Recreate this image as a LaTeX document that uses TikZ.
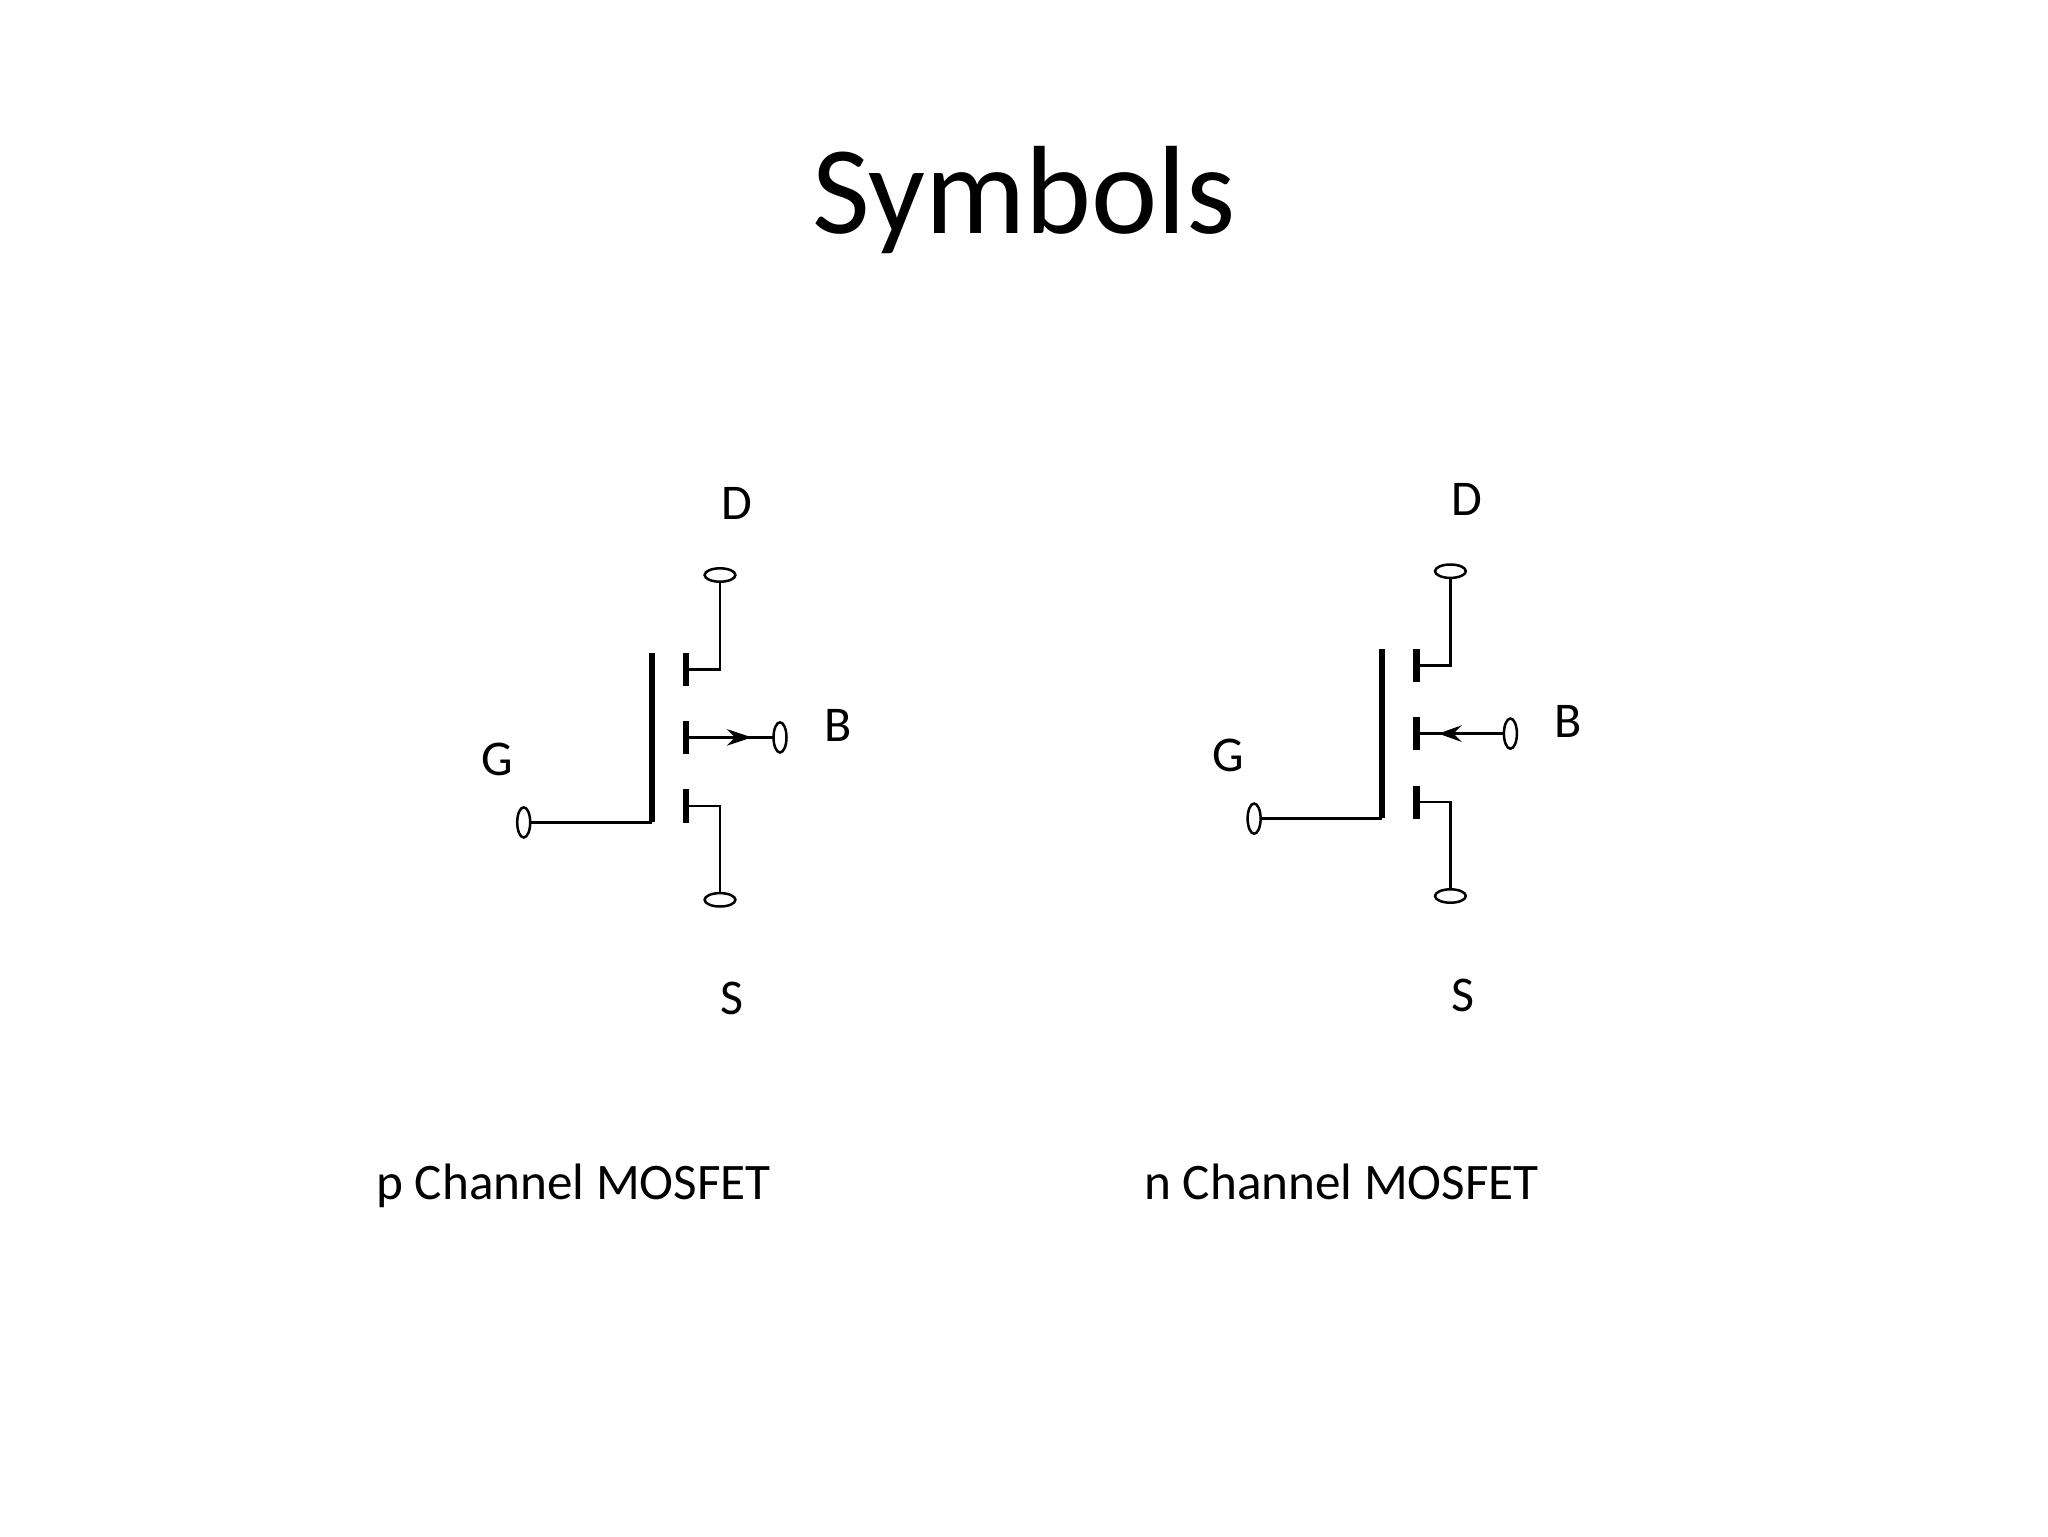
\documentclass[tikz,border=0pt]{standalone}
\usepackage{fontspec}
\setmainfont{Carlito}
\usetikzlibrary{shapes.geometric}
\tikzset{
  wire/.style={line width=1.25pt,draw=black},
  term/.style={ellipse,draw=black,line width=1.25pt,fill=white,inner sep=0pt,outer sep=0pt},
  vterm/.style={term,minimum width=6.5pt,minimum height=15.1pt},
  hterm/.style={term,minimum width=15.4pt,minimum height=6.7pt},
  gatebar/.style={rectangle,fill=black,inner sep=0pt,outer sep=0pt,minimum width=3pt,minimum height=84.7pt},
  chanbar/.style={rectangle,fill=black,inner sep=0pt,outer sep=0pt,minimum width=3.3pt,minimum height=16.7pt},
  pinlabel/.style={anchor=base,inner sep=0pt,font=\fontsize{25}{30}\selectfont},
  caption/.style={anchor=base west,inner sep=0pt,font=\fontsize{25.6}{31}\selectfont},
  titletext/.style={anchor=base,inner sep=0pt,font=\fontsize{62.8}{75}\selectfont},
  arrowhead/.style={fill=black,line join=miter}
}
\newcommand{\fetbody}{%
  \node[gatebar] (bar) at (652,737.4) {};
  \node[chanbar] (top) at (686,669.4) {};
  \node[chanbar] (mid) at (686,737.4) {};
  \node[chanbar] (bot) at (686,806) {};
  \node[hterm] (dt) at (720,575) {};
  \node[hterm] (st) at (720,899.8) {};
  \node[vterm] (bt) at (780,737.4) {};
  \node[vterm] (gt) at (523.7,822.4) {};
  \draw[wire,line join=miter] (top.center) -| (dt.south);
  \draw[wire,line join=miter] (bot.center) -| (st.north);
  \draw[wire] (mid.center) -- (bt.west);
  \draw[wire] (gt.east) -- (gt.east -| bar.center);
  \node[pinlabel] (dl) at (736.7,519.4) {D};
  \node[pinlabel] (bl) at (837.6,741.7) {B};
  \node[pinlabel] (gl) at (497.6,775.4) {G};
  \node[pinlabel] (sl) at (732.3,1014.8) {S};
}
\begin{document}
\begin{tikzpicture}[x=0.5pt,y=-0.5pt]
\useasboundingbox[fill=white] (0,0) rectangle (2048,1536);
\node[titletext] (title) at (1024,233) {Symbols};
\begin{scope}[name prefix=p-]
  \fetbody
  \fill[arrowhead] (752,737.4) -- (726.5,729) -- (735,737.4) -- (726.5,745.8) -- cycle;
\end{scope}
\begin{scope}[name prefix=n-,shift={(730.4,-3.8)}]
  \fetbody
  \fill[arrowhead] (708,737.4) -- (731.5,729) -- (723,737.4) -- (731.5,745.8) -- cycle;
\end{scope}
\node[caption] (pcap) at (376,1199) {p Channel MOSFET};
\node[caption] (ncap) at (1144,1199) {n Channel MOSFET};
\end{tikzpicture}
\end{document}
